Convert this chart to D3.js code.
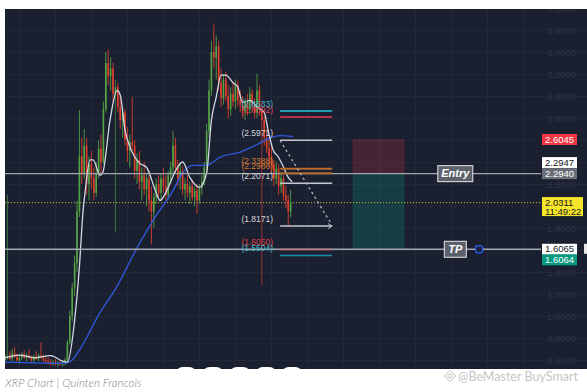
<!DOCTYPE html>
<html>
<head>
<meta charset="utf-8">
<script src="https://cdn.jsdelivr.net/npm/d3@7"></script>
<style>
html, body { margin: 0; padding: 0; background: #fff; }
svg { display: block; }
</style>
</head>
<body>
<div id="chart"></div>
<script>
'use strict';

// candles as [open, high, low, close], one per bar
const candles = [
    [0.60,0.66,0.58,0.63],[0.63,2.10,0.60,0.64],[0.64,0.68,0.60,0.61],[0.61,0.70,0.59,0.66],
    [0.66,0.72,0.62,0.63],[0.63,0.66,0.58,0.60],[0.60,0.65,0.57,0.62],[0.62,0.67,0.60,0.65],
    [0.65,0.69,0.61,0.62],[0.62,0.66,0.59,0.64],[0.64,0.70,0.61,0.62],[0.62,0.64,0.58,0.60],
    [0.60,0.65,0.58,0.63],[0.63,0.68,0.60,0.61],[0.61,0.66,0.59,0.64],[0.64,0.76,0.61,0.62],
    [0.62,0.65,0.58,0.60],[0.60,0.63,0.57,0.59],[0.59,0.62,0.56,0.58],[0.58,0.61,0.55,0.57],
    [0.57,0.60,0.55,0.58],[0.58,0.61,0.55,0.56],[0.56,0.59,0.54,0.57],[0.57,0.60,0.55,0.56],
    [0.56,0.59,0.54,0.58],[0.58,0.62,0.55,0.60],[0.60,0.78,0.59,0.76],[0.76,1.05,0.74,1.00],
    [1.00,1.30,0.95,1.25],[1.25,1.55,1.18,1.48],[1.48,2.05,1.40,1.95],[1.95,2.87,1.90,2.45],
    [2.45,2.62,2.20,2.30],[2.30,2.70,2.25,2.55],[2.55,2.62,2.10,2.20],[2.20,2.45,2.05,2.38],
    [2.38,2.50,2.15,2.25],[2.25,2.35,2.05,2.12],[2.12,2.40,2.08,2.30],[2.30,2.60,2.25,2.52],
    [2.52,2.65,2.30,2.40],[2.40,2.95,2.38,2.88],[2.88,3.40,2.85,3.30],[3.30,3.42,3.10,3.18],
    [3.18,3.35,3.05,3.25],[3.25,3.30,2.95,3.02],[3.02,3.15,1.76,3.08],[3.08,3.12,2.85,2.90],
    [2.90,3.00,2.70,2.78],[2.78,2.90,2.62,2.85],[2.85,2.88,2.55,2.60],[2.60,2.72,2.40,2.50],
    [2.50,2.65,2.35,2.58],[2.58,2.99,2.50,2.55],[2.55,2.60,2.25,2.32],[2.32,2.48,2.20,2.42],
    [2.42,2.50,2.15,2.22],[2.22,2.35,2.05,2.28],[2.28,2.40,2.10,2.15],[2.15,2.30,2.00,2.25],
    [2.25,2.32,1.95,2.05],[2.05,2.18,1.65,1.95],[1.95,2.12,1.80,2.08],[2.08,2.25,2.02,2.20],
    [2.20,2.28,2.08,2.12],[2.12,2.30,2.05,2.25],[2.25,2.35,2.12,2.18],[2.18,2.28,2.05,2.10],
    [2.10,2.32,2.06,2.28],[2.28,2.40,2.20,2.35],[2.35,2.68,2.30,2.55],[2.55,2.62,2.30,2.35],
    [2.35,2.42,2.18,2.25],[2.25,2.38,2.15,2.32],[2.32,2.36,2.10,2.15],[2.15,2.25,2.05,2.20],
    [2.20,2.28,2.08,2.12],[2.12,2.22,2.02,2.18],[2.18,2.24,2.05,2.08],[2.08,2.18,2.00,2.14],
    [2.14,2.20,1.93,2.05],[2.05,2.20,2.02,2.16],[2.16,2.28,2.10,2.22],[2.22,2.40,2.18,2.35],
    [2.35,2.75,2.30,2.68],[2.68,3.15,2.62,3.05],[3.05,3.50,3.00,3.40],[3.40,3.66,3.25,3.35],
    [3.35,3.55,3.15,3.45],[3.45,3.50,3.05,3.12],[3.12,3.25,2.90,2.98],[2.98,3.20,2.92,3.15],
    [3.15,3.22,2.95,3.00],[3.00,3.10,2.80,2.88],[2.88,3.08,2.82,3.02],[3.02,3.12,2.90,2.95],
    [2.95,3.15,2.88,3.10],[3.10,3.14,2.90,2.96],[2.96,3.05,2.85,2.92],[2.92,3.00,2.80,2.86],
    [2.86,2.98,2.78,2.94],[2.94,3.02,2.82,2.88],[2.88,3.08,2.84,3.02],[3.02,3.06,2.86,2.92],
    [2.92,2.98,2.80,2.85],[2.85,3.20,2.80,3.05],[3.05,3.10,2.82,2.88],[2.88,2.95,1.28,2.78],
    [2.78,2.82,2.55,2.62],[2.62,2.70,2.48,2.52],[2.52,2.60,2.35,2.45],[2.45,2.55,2.30,2.38],
    [2.38,2.42,2.18,2.25],[2.25,2.40,2.20,2.34],[2.34,2.38,2.10,2.18],[2.18,2.30,2.12,2.25],
    [2.25,2.28,2.05,2.10],[2.10,2.18,1.98,2.05],[2.05,2.10,1.82,1.95],[1.95,2.15,1.90,2.0311]
];

// moving averages as [bar index, price]
const fastAverage = [
    [0,0.62],[6,0.645],[12.5,0.62],[19,0.64],[24,0.59],[26,0.58],[29,0.96],[31,1.45],
    [32.5,1.95],[33.5,2.15],[35.4,2.42],[36.7,2.42],[39.6,2.28],[40.8,2.31],[43.75,2.78],
    [46.7,3.05],[48,3.01],[50,2.69],[52,2.54],[56,2.39],[59,2.35],[63,2.12],[64.6,2.05],
    [67.5,2.145],[70.8,2.31],[74,2.40],[77,2.26],[81,2.17],[84,2.30],[86,2.78],[88,2.99],
    [90,3.19],[92,3.19],[95,3.12],[97,3.08],[99,2.94],[102,2.96],[105,2.90],[108,2.85],
    [109.6,2.69],[111.7,2.51],[113.75,2.45],[116,2.355],[118,2.26],[119.6,2.22]
];
const slowAverage = [
    [0,0.58],[25,0.57],[28,0.60],[31,0.69],[39.6,1.03],[46.7,1.27],[55,1.62],[61.7,1.87],
    [70,2.14],[74,2.30],[78.3,2.37],[84,2.37],[89.6,2.445],[98,2.49],[106,2.57],
    [110.4,2.62],[114.6,2.64],[120,2.63]
];

const priceTicks = [0.6,0.8,1.0,1.2,1.4,1.6,1.8,2.0,2.2,2.4,2.6,2.8,3.0,3.2,3.4,3.6,3.8];

// fib / projection levels
const levelValues = [2.8633, 2.8092, 2.5971, 2.3388, 2.2986, 2.2071, 1.8171, 1.6050, 1.5504];
const levelLabels = ['(2.8633)','(2.8092)','(2.5971)','(2.3388)','(2.2986)','(2.2071)','(1.8171)','(1.6050)','(1.5504)'];
const levelFrom = 114.6, levelTo = 136.3;
const projection = [[114.6, 2.5971], [135.4, 1.855]];

// position
const stopPrice = 2.6045, entryPrice = 2.2940, targetPrice = 1.6065, lastPrice = 2.0311;
const positionFrom = 145, positionTo = 166.25;
const tagAt = 187.6, handleAt = 197.5;

// price tags on the right scale
const tagValues = [2.6045, 2.2947, 2.2940, 2.0311, 1.6065, 1.6064];
const tagTexts = ['2.6045', '2.2947', '2.2940', '2.0311', '1.6065', '1.6064'];
const lastTime = '11:49:22';

const W = 587, H = 392;
const plot = {left: 5, right: 541, top: 9, bottom: 369};

const svg = d3.select('#chart').append('svg')
    .attr('width', W).attr('height', H)
    .style('font-family', 'Liberation Sans, Arial, sans-serif');

const x = d3.scaleLinear().domain([0, 223.3]).range([plot.left, plot.right]);
const y = d3.scaleLinear().domain([0.6, 3.8]).range([360, 8]);

svg.append('rect').attr('x', plot.left).attr('y', plot.top)
    .attr('width', W - plot.left).attr('height', plot.bottom - plot.top)
    .attr('fill', '#1b2030');

svg.append('defs').append('clipPath').attr('id', 'clip')
    .append('rect').attr('x', plot.left).attr('y', plot.top)
    .attr('width', plot.right - plot.left).attr('height', plot.bottom - plot.top);

// grid
const grid = svg.append('g').attr('stroke', '#222838').attr('stroke-width', 1);
grid.selectAll('line.h').data(priceTicks).join('line').attr('class', 'h')
    .attr('x1', plot.left).attr('x2', W)
    .attr('y1', d => Math.round(y(d)) + 0.5).attr('y2', d => Math.round(y(d)) + 0.5);
grid.selectAll('line.v').data(d3.range(5.83, 223, 15)).join('line').attr('class', 'v')
    .attr('x1', d => Math.round(x(d)) + 0.5).attr('x2', d => Math.round(x(d)) + 0.5)
    .attr('y1', plot.top).attr('y2', plot.bottom);

const body = svg.append('g').attr('clip-path', 'url(#clip)');

// position box
const posG = body.append('g');
posG.append('rect')
    .attr('x', x(positionFrom)).attr('width', x(positionTo) - x(positionFrom))
    .attr('y', y(stopPrice)).attr('height', y(entryPrice) - y(stopPrice))
    .attr('fill', 'rgba(242,54,69,0.2)').attr('stroke', 'rgba(242,54,69,0.35)')
    .attr('stroke-dasharray', '1,1');
posG.append('rect')
    .attr('x', x(positionFrom)).attr('width', x(positionTo) - x(positionFrom))
    .attr('y', y(entryPrice)).attr('height', y(targetPrice) - y(entryPrice))
    .attr('fill', 'rgba(8,153,129,0.24)').attr('stroke', 'rgba(8,153,129,0.35)')
    .attr('stroke-dasharray', '1,1');

// current price dotted line
body.append('line')
    .attr('x1', plot.left).attr('x2', plot.right)
    .attr('y1', y(lastPrice)).attr('y2', y(lastPrice))
    .attr('stroke', '#a59c45').attr('stroke-width', 1.2).attr('stroke-dasharray', '1.2,1.8');

// candles
const up = '#55a546', down = '#e0402e';
const color = d => d[3] >= d[0] ? up : down;
body.append('g').selectAll('line').data(candles).join('line')
    .attr('x1', (d, i) => x(i)).attr('x2', (d, i) => x(i))
    .attr('y1', d => y(d[1])).attr('y2', d => y(d[2]))
    .attr('stroke', color).attr('stroke-width', 0.9)
    .attr('stroke-opacity', d => (d[1] - d[2]) > 1 ? 0.7 : 0.95);
body.append('g').selectAll('rect').data(candles).join('rect')
    .attr('x', (d, i) => x(i) - 0.8).attr('width', 1.6)
    .attr('y', d => y(Math.max(d[0], d[3])))
    .attr('height', d => Math.max(0.8, Math.abs(y(d[0]) - y(d[3]))))
    .attr('fill', color);

// averages
const line = d3.line().x(d => x(d[0])).y(d => y(d[1])).curve(d3.curveMonotoneX);
body.append('path').datum(slowAverage).attr('d', line)
    .attr('fill', 'none').attr('stroke', '#2f5ae0').attr('stroke-width', 1.3);
body.append('path').datum(fastAverage).attr('d', line)
    .attr('fill', 'none').attr('stroke', '#d3d9e4').attr('stroke-width', 1.3);

// entry and target lines
body.selectAll('line.pos').data([entryPrice, targetPrice]).join('line').attr('class', 'pos')
    .attr('x1', plot.left).attr('x2', plot.right)
    .attr('y1', d => y(d)).attr('y2', d => y(d))
    .attr('stroke', '#a2a6ae').attr('stroke-width', 1.4);

// levels
const levelColors = ['#26c6da', '#e5394f', '#c4c8cf', '#b86a2e', '#b86a2e', '#c4c8cf', '#c4c8cf', '#c98080', '#1e8bb0'];
const textColors = ['#3fb8c8', '#d8434f', '#d4d7dd', '#d9782e', '#d9782e', '#d4d7dd', '#d4d7dd', '#d8434f', '#3fb8c8'];
const levels = body.append('g');
levels.selectAll('line').data(levelValues).join('line')
    .attr('x1', x(levelFrom)).attr('x2', x(levelTo))
    .attr('y1', d => y(d)).attr('y2', d => y(d))
    .attr('stroke', (d, i) => levelColors[i])
    .attr('stroke-width', (d, i) => (i === 3 || i === 4) ? 2 : 1.5);
levels.selectAll('text').data(levelValues).join('text')
    .attr('x', x(levelFrom) - 7).attr('y', d => y(d) - 6.5)
    .attr('text-anchor', 'end').attr('dominant-baseline', 'middle')
    .attr('font-size', 8.5)
    .attr('fill', (d, i) => textColors[i])
    .text((d, i) => levelLabels[i]);

// projection
body.append('line')
    .attr('x1', x(projection[0][0])).attr('y1', y(projection[0][1]))
    .attr('x2', x(projection[1][0])).attr('y2', y(projection[1][1]))
    .attr('stroke', '#b5b9c1').attr('stroke-width', 1.2).attr('stroke-dasharray', '2.5,3');
const ax = x(levelTo), ay = y(levelValues[6]);
body.append('path')
    .attr('d', `M${ax - 4},${ay - 2.5}L${ax},${ay}L${ax - 4},${ay + 2.5}`)
    .attr('fill', 'none').attr('stroke', '#c4c8cf').attr('stroke-width', 1);

// Entry / TP tags
const tags = body.append('g');
[['Entry', entryPrice, 35], ['TP', targetPrice, 22]].forEach(([label, price, w]) => {
    tags.append('rect')
        .attr('x', x(tagAt) - w / 2).attr('y', y(price) - 8)
        .attr('width', w).attr('height', 16)
        .attr('fill', '#5c616c').attr('stroke', '#e6e8ec').attr('stroke-width', 1);
    tags.append('text')
        .attr('x', x(tagAt)).attr('y', y(price) + 0.5)
        .attr('text-anchor', 'middle').attr('dominant-baseline', 'middle')
        .attr('font-size', 11).attr('font-weight', 'bold').attr('font-style', 'italic')
        .attr('fill', '#fff').text(label);
});
tags.append('rect')
    .attr('x', x(handleAt) - 3.5).attr('y', y(targetPrice) - 3.5)
    .attr('width', 7).attr('height', 7).attr('rx', 1.5)
    .attr('fill', '#1b2030').attr('stroke', '#2962ff').attr('stroke-width', 1.3);

// price tags (placement on the scale)
const tagFill = ['#f23645', '#ffffff', '#6a6e78', '#f7e52b', '#ffffff', '#089981'];
const tagInk = ['#fff', '#131722', '#fff', '#131722', '#131722', '#fff'];
const tagShift = [0, -11, 0, 0, 0, 10.5];
const tagBoxes = tagValues.map((v, i) => {
    const cy = y(v) + tagShift[i];
    return {top: cy - 5.5, bottom: cy - 5.5 + (i === 3 ? 19 : 11)};
});

// price scale: only the labels that the tags leave uncovered
const shownTicks = priceTicks.filter(t => !tagBoxes.some(b => y(t) + 4 > b.top && y(t) - 4 < b.bottom));
const axis = svg.append('g')
    .attr('transform', `translate(${plot.right + 6},0)`)
    .call(d3.axisRight(y).tickValues(shownTicks).tickFormat(d3.format('.4f')).tickSize(0).tickPadding(0));
axis.select('.domain').remove();
axis.selectAll('text').attr('fill', '#2f3546').attr('font-size', 9.5)
    .style('font-family', 'Liberation Sans, Arial, sans-serif');

const tg = svg.append('g');
tagValues.forEach((v, i) => {
    const cy = y(v) + tagShift[i];
    const big = i === 3;
    tg.append('rect')
        .attr('x', plot.right + 1).attr('y', tagBoxes[i].top)
        .attr('width', big ? 41 : 35).attr('height', tagBoxes[i].bottom - tagBoxes[i].top)
        .attr('fill', tagFill[i]);
    tg.append('text')
        .attr('x', plot.right + 4).attr('y', cy + 0.5)
        .attr('dominant-baseline', 'middle').attr('font-size', 9.5)
        .attr('fill', tagInk[i]).text(tagTexts[i]);
    if (big) {
        tg.append('text')
            .attr('x', plot.right + 4).attr('y', cy + 9.5)
            .attr('dominant-baseline', 'middle').attr('font-size', 9.5)
            .attr('fill', tagInk[i]).text(lastTime);
    }
});
tg.append('rect').attr('x', 584).attr('y', y(targetPrice) - 5.5)
    .attr('width', 3).attr('height', 10).attr('fill', '#e8e8e8');

// white surroundings
svg.append('rect').attr('x', 0).attr('y', 0).attr('width', W).attr('height', plot.top).attr('fill', '#fff');
svg.append('rect').attr('x', 0).attr('y', 0).attr('width', plot.left).attr('height', H).attr('fill', '#fff');
svg.append('rect').attr('x', 0).attr('y', plot.bottom).attr('width', W).attr('height', H - plot.bottom).attr('fill', '#fff');

// pager dots overlapping the bottom edge
svg.append('g').selectAll('rect').data([186, 213, 240, 266, 292]).join('rect')
    .attr('x', d => d - 11).attr('y', 367).attr('width', 22).attr('height', 16).attr('rx', 8)
    .attr('fill', '#fff');

// caption
svg.append('text')
    .attr('x', 5).attr('y', 387)
    .attr('font-family', 'Lato, Open Sans, sans-serif')
    .attr('font-style', 'italic').attr('font-weight', 300)
    .attr('font-size', 11.5).attr('fill', '#858585')
    .text('XRP Chart | Quinten Francois');

// watermark
const wm = svg.append('g').attr('stroke', '#cfcfcf').attr('fill', 'none').attr('stroke-width', 1);
wm.append('rect').attr('x', -4).attr('y', -4).attr('width', 8).attr('height', 8)
    .attr('transform', 'translate(450,376) rotate(45)');
wm.append('rect').attr('x', -1.8).attr('y', -1.8).attr('width', 3.6).attr('height', 3.6)
    .attr('transform', 'translate(450,376) rotate(45)');
svg.append('text')
    .attr('x', 458).attr('y', 380.5)
    .attr('font-family', 'Lato, Open Sans, sans-serif')
    .attr('font-size', 12.5).attr('fill', '#c6c6c6')
    .text('@BeMaster BuySmart');
</script>
</body>
</html>
